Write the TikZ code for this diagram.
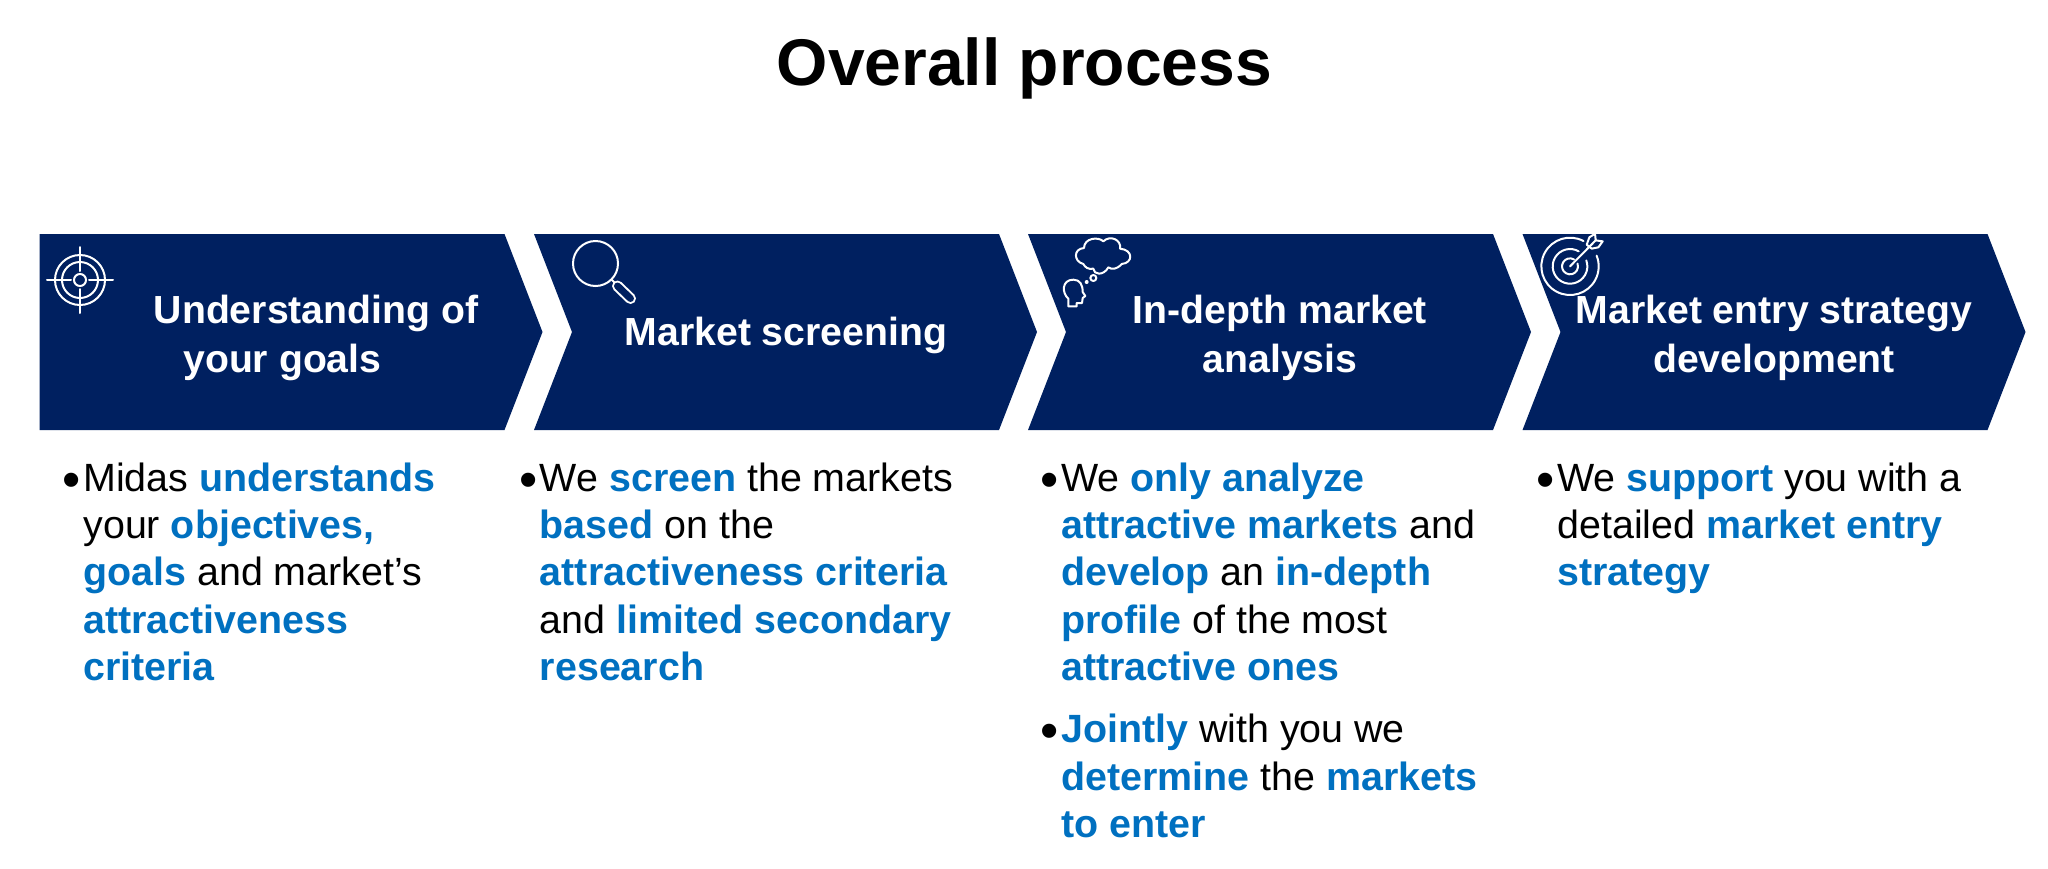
\documentclass[tikz,border=0pt]{standalone}
\usepackage{fontspec}
\setmainfont{Liberation Sans}
\usepackage{tikz}

\definecolor{chevnavy}{HTML}{002060}
\definecolor{keyblue}{HTML}{0070C0}
\newcommand{\kw}[1]{\textcolor{keyblue}{\textbf{#1}}}
\newcommand{\bul}{\llap{\raisebox{-3pt}{\fontsize{26}{26}\selectfont •}\hspace{1.25pt}}}

\tikzset{
  chevtext/.style={text=white, font=\fontsize{19.6}{24.3}\selectfont\bfseries,
    inner sep=0pt, anchor=base, align=center},
  bodytext/.style={font=\fontsize{19.7}{23.65}\selectfont, inner sep=0pt,
    anchor=base west, align=left},
  icon/.style={draw=white, line width=1pt, line cap=round, line join=round}
}

\begin{document}
\begin{tikzpicture}[x=0.5pt, y=-0.5pt]
  \useasboundingbox (0,0) rectangle (2048,868);

  \node[font=\fontsize{33}{38}\selectfont\bfseries, inner sep=0pt, anchor=base]
    (title) at (1024.5,85) {Overall process};

  \foreach \x in {39.5,534,1028,1522.5}
    \fill[chevnavy] (\x,234) -- ++(465,0) -- ++(38,98) -- ++(-38,98) -- ++(-465,0)
      \ifdim\x pt>100pt -- ++(38,-98) \fi -- cycle;

  \node[chevtext, align=left] (goals) at (316,372)
    {Understanding of\\\hspace*{14.75pt}your goals};
  \node[chevtext] (screen) at (786,345) {Market screening};
  \node[chevtext] (depth) at (1280,372) {In-depth market\\analysis};
  \node[chevtext] (entry) at (1774,372) {Market entry strategy\\development};

  % target
  \begin{scope}[icon]
    \draw (80,280) circle (25) (80,280) circle (18) (80,280) circle (6);
    \draw (47,280) -- (71,280) (89,280) -- (113,280)
      (80,247) -- (80,271) (80,289) -- (80,313);
  \end{scope}

  % magnifier
  \begin{scope}[icon]
    \draw (595.5,263.5) circle (22.5);
    \draw (611.5,279.5) -- (617,285);
    \draw[line width=5.5pt] (617.5,286) -- (630.5,298.5);
    \draw[chevnavy, line width=3.5pt] (617.5,286) -- (630.5,298.5);
  \end{scope}

  % thought
  \begin{scope}[icon, shift={(1060,228)}, x=0.1667pt, y=-0.1667pt]
    \draw (70,108) .. controls (40,100) and (40,62) .. (72,60)
      .. controls (72,30) and (115,25) .. (130,40)
      .. controls (150,20) and (185,35) .. (180,62)
      .. controls (220,65) and (220,105) .. (185,108)
      .. controls (170,125) and (155,125) .. (145,118)
      .. controls (130,145) and (100,140) .. (100,122)
      .. controls (85,125) and (75,118) .. (70,108) -- cycle;
    \draw (100,150) circle (9);
    \fill[white] (80,162) circle (6);
    \draw (25,235) -- (25,212) .. controls (5,195) and (5,155) .. (40,155)
      .. controls (60,155) and (68,170) .. (68,192) -- (76,204) -- (68,210)
      -- (66,225) -- (50,225) -- (50,235) -- cycle;
  \end{scope}

  % dart
  \begin{scope}[icon, shift={(1530,228)}, x=0.1667pt, y=-0.1667pt]
    \draw (120,115) ++(-62:86) arc[start angle=-62, end angle=-382, radius=86];
    \draw (120,115) ++(-60:52) arc[start angle=-60, end angle=-380, radius=52];
    \draw (120,115) ++(-60:24) arc[start angle=-60, end angle=-380, radius=24];
    \draw (120,115) -- (197,37);
    \draw (170,50) -- (178,28) -- (195,17) -- (197,37) -- (218,40) -- (205,58)
      -- (185,62) -- cycle;
  \end{scope}

  \node[bodytext] (col1) at (83,680.5)
    {\bul Midas \kw{understands}\\your \kw{objectives,}\\\kw{goals} and market’s\\
     \kw{attractiveness}\\\kw{criteria}};
  \node[bodytext] (col2) at (539.5,680.5)
    {\bul We \kw{screen} the markets\\\kw{based} on the\\\kw{attractiveness criteria}\\
     and \kw{limited secondary}\\\kw{research}};
  \node[bodytext] (col3a) at (1060.7,680.5)
    {\bul We \kw{only analyze}\\\kw{attractive markets} and\\\kw{develop} an \kw{in-depth}\\
     \kw{profile} of the most\\\kw{attractive ones}};
  \node[bodytext] (col3b) at (1060.7,837.5)
    {\bul\kw{Jointly} with you we\\\kw{determine} the \kw{markets}\\\kw{to enter}};
  \node[bodytext] (col4) at (1557,585.8)
    {\bul We \kw{support} you with a\\detailed \kw{market entry}\\\kw{strategy}};
\end{tikzpicture}
\end{document}
